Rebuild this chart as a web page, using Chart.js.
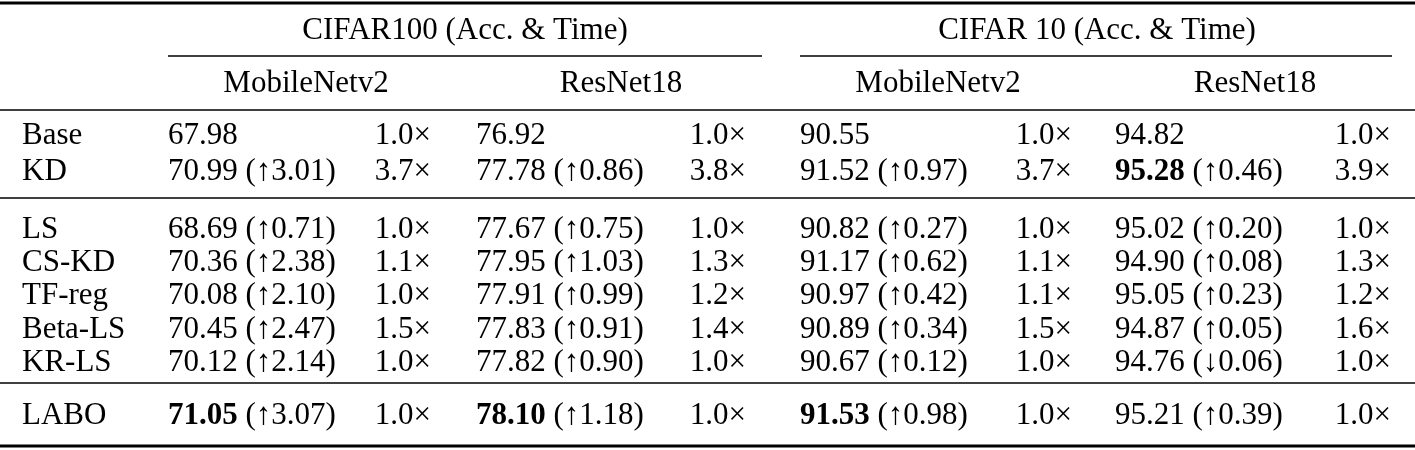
<!DOCTYPE html>
<html>
<head>
<meta charset="utf-8">
<script src="https://cdn.jsdelivr.net/npm/chart.js@4"></script>
<style>
  body { margin: 0; background: #fff; }
  #wrap { width: 1415px; height: 450px; }
</style>
</head>
<body>
<div id="wrap"><canvas id="tableChart"></canvas></div>
<script>
// table values
var methods = ['Base', 'KD', 'LS', 'CS-KD', 'TF-reg', 'Beta-LS', 'KR-LS', 'LABO'];
var datasetsTitles = ['CIFAR100 (Acc. & Time)', 'CIFAR 10 (Acc. & Time)'];
var models = ['MobileNetv2', 'ResNet18', 'MobileNetv2', 'ResNet18'];

var c100MobAcc = [67.98, 70.99, 68.69, 70.36, 70.08, 70.45, 70.12, 71.05];
var c100ResAcc = [76.92, 77.78, 77.67, 77.95, 77.91, 77.83, 77.82, 78.10];
var c10MobAcc = [90.55, 91.52, 90.82, 91.17, 90.97, 90.89, 90.67, 91.53];
var c10ResAcc = [94.82, 95.28, 95.02, 94.90, 95.05, 94.87, 94.76, 95.21];

var c100MobTime = [1.0, 3.7, 1.0, 1.1, 1.0, 1.5, 1.0, 1.0];
var c100ResTime = [1.0, 3.8, 1.0, 1.3, 1.2, 1.4, 1.0, 1.0];
var c10MobTime = [1.0, 3.7, 1.0, 1.1, 1.1, 1.5, 1.0, 1.0];
var c10ResTime = [1.0, 3.9, 1.0, 1.3, 1.2, 1.6, 1.0, 1.0];

// best entry per column (row index)
var bestRow = [7, 7, 7, 1];

var accCols = [c100MobAcc, c100ResAcc, c10MobAcc, c10ResAcc];
var timeCols = [c100MobTime, c100ResTime, c10MobTime, c10ResTime];

// layout (pixels in chart coordinates)
var rowY = [136, 172, 230, 263, 296, 330, 363, 416];
var accX = [168, 476, 800, 1115];
var timeRight = [431, 746, 1072, 1391];
var modelX = [306, 621, 938, 1255];
var groupX = [465, 1097];
var groupLine = [[168, 762], [800, 1392]];

var FONT = '"Liberation Serif", "DejaVu Serif", serif';
var SIZE = '31px ';

var tablePlugin = {
    id: 'tablePlugin',
    afterDraw: function (chart) {
        var ctx = chart.ctx;
        var xs = chart.scales.x, ys = chart.scales.y;
        var px = function (v) { return xs.getPixelForValue(v); };
        var py = function (v) { return ys.getPixelForValue(v); };

        ctx.save();
        ctx.fillStyle = '#000';
        ctx.strokeStyle = '#000';
        ctx.textBaseline = 'middle';

        function hline(x1, x2, y, w) {
            ctx.lineWidth = w;
            ctx.beginPath();
            ctx.moveTo(px(x1), py(y));
            ctx.lineTo(px(x2), py(y));
            ctx.stroke();
        }

        hline(0, 1415, 3, 3);
        hline(0, 1415, 110, 1.3);
        hline(0, 1415, 198, 1.3);
        hline(0, 1415, 383, 1.3);
        hline(0, 1415, 446, 3);
        groupLine.forEach(function (g) { hline(g[0], g[1], 56, 1.3); });

        ctx.font = SIZE + FONT;
        ctx.textAlign = 'center';
        datasetsTitles.forEach(function (t, i) { ctx.fillText(t, px(groupX[i]), py(31)); });
        models.forEach(function (t, i) { ctx.fillText(t, px(modelX[i]), py(84)); });

        methods.forEach(function (m, r) {
            var y = py(rowY[r]);
            ctx.textAlign = 'left';
            ctx.font = SIZE + FONT;
            ctx.fillText(m, px(22), y);

            accCols.forEach(function (col, c) {
                var x = px(accX[c]);
                var val = col[r].toFixed(2);
                ctx.font = (bestRow[c] === r ? 'bold ' : '') + SIZE + FONT;
                ctx.textAlign = 'left';
                ctx.fillText(val, x, y);
                var w = ctx.measureText(val).width;
                if (r > 0) {
                    var d = Math.round((col[r] - col[0]) * 100) / 100;
                    var txt = ' (' + (d >= 0 ? '\u2191' : '\u2193') + Math.abs(d).toFixed(2) + ')';
                    ctx.font = SIZE + FONT;
                    ctx.fillText(txt, x + w, y);
                }
                ctx.font = SIZE + FONT;
                ctx.textAlign = 'right';
                ctx.fillText(timeCols[c][r].toFixed(1) + '\u00d7', px(timeRight[c]), y);
            });
        });
        ctx.restore();
    }
};

var ctx = document.getElementById('tableChart').getContext('2d');
new Chart(ctx, {
    type: 'scatter',
    data: { datasets: [] },
    options: {
        responsive: true,
        maintainAspectRatio: false,
        animation: false,
        layout: { padding: 0 },
        plugins: { legend: { display: false }, tooltip: { enabled: false } },
        scales: {
            x: { display: false, min: 0, max: 1415 },
            y: { display: false, min: 0, max: 450, reverse: true }
        }
    },
    plugins: [tablePlugin]
});
</script>
</body>
</html>
